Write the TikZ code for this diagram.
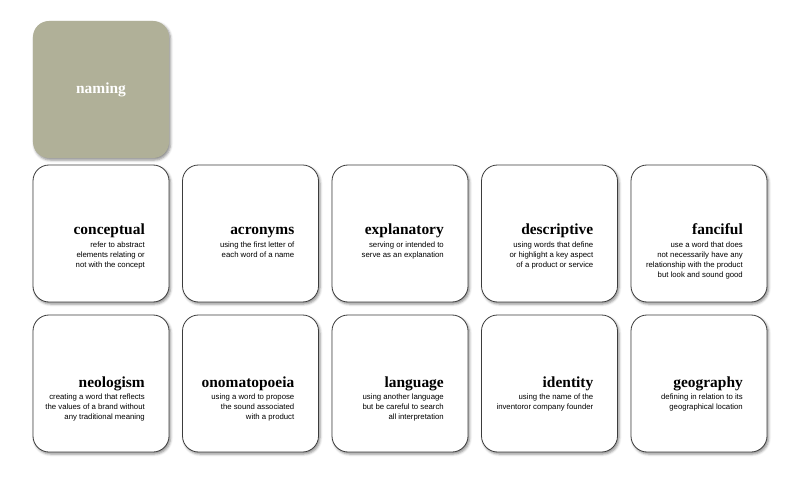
\documentclass[tikz,border=0pt]{standalone}
\usepackage{fontspec}
\setmainfont{Liberation Serif}
\setsansfont{Liberation Sans}
\usetikzlibrary{shadows.blur}
\definecolor{namingfill}{RGB}{176,176,152}
\definecolor{cardline}{RGB}{60,60,60}
\begin{document}
\begin{tikzpicture}[x=1bp,y=-1bp]
	% Styles for the cards
	\tikzset{card/.style={draw=cardline, line width=0.8bp, fill=white, rounded corners=16bp, minimum width=136bp, minimum height=137bp, inner sep=0pt, blur shadow={shadow xshift=1.5bp, shadow yshift=-2bp, shadow blur radius=2.5bp, shadow opacity=45}}}
	\tikzset{headcard/.style={card, draw=none, fill=namingfill}}
	\tikzset{title/.style={anchor=base east, inner sep=0pt, font=\bfseries\fontsize{15.5}{15.5}\selectfont}}
	\tikzset{desc/.style={anchor=north east, inner sep=0pt, align=right, font=\sffamily\fontsize{7.8}{10}\selectfont}}
	\useasboundingbox (0,0) rectangle (800,480);
	
	% Head card
	\node[headcard] (naming) at (101,89.5) {};
	\node[title, anchor=center, text=white] (namingT) at (naming.center) {naming};
	
	% First row
	\node[card] (concept) at (101,233.5) {};
	\node[card] (acro) at (250.5,233.5) {};
	\node[card] (expl) at (400,233.5) {};
	\node[card] (descr) at (549.5,233.5) {};
	\node[card] (fanc) at (699,233.5) {};
	
	\node[title] (conceptT) at ([xshift=44bp,yshift=-1bp]concept.center) {conceptual};
	\node[title] (acroT) at ([xshift=44bp,yshift=-1bp]acro.center) {acronyms};
	\node[title] (explT) at ([xshift=44bp,yshift=-1bp]expl.center) {explanatory};
	\node[title] (descrT) at ([xshift=44bp,yshift=-1bp]descr.center) {descriptive};
	\node[title] (fancT) at ([xshift=44bp,yshift=-1bp]fanc.center) {fanciful};
	
	\node[desc] (conceptD) at ([yshift=-7bp]conceptT.base east) {refer to abstract\\elements relating or\\not with the concept};
	\node[desc] (acroD) at ([yshift=-7bp]acroT.base east) {using the first letter of\\each word of a name};
	\node[desc] (explD) at ([yshift=-7bp]explT.base east) {serving or intended to\\serve as an explanation};
	\node[desc] (descrD) at ([yshift=-7bp]descrT.base east) {using words that define\\or highlight a key aspect\\of a product or service};
	\node[desc] (fancD) at ([yshift=-7bp]fancT.base east) {use a word that does\\not necessarily have any\\relationship with the product\\but look and sound good};
	
	% Second row
	\node[card] (neo) at (101,383.5) {};
	\node[card] (onom) at (250.5,383.5) {};
	\node[card] (lang) at (400,383.5) {};
	\node[card] (ident) at (549.5,383.5) {};
	\node[card] (geo) at (699,383.5) {};
	
	\node[title] (neoT) at ([xshift=44bp,yshift=-3.5bp]neo.center) {neologism};
	\node[title] (onomT) at ([xshift=44bp,yshift=-3.5bp]onom.center) {onomatopoeia};
	\node[title] (langT) at ([xshift=44bp,yshift=-3.5bp]lang.center) {language};
	\node[title] (identT) at ([xshift=44bp,yshift=-3.5bp]ident.center) {identity};
	\node[title] (geoT) at ([xshift=44bp,yshift=-3.5bp]geo.center) {geography};
	
	\node[desc] (neoD) at ([yshift=-7bp]neoT.base east) {creating a word that reflects\\the values of a brand without\\any traditional meaning};
	\node[desc] (onomD) at ([yshift=-7bp]onomT.base east) {using a word to propose\\the sound associated\\with a product};
	\node[desc] (langD) at ([yshift=-7bp]langT.base east) {using another language\\but be careful to search\\all interpretation};
	\node[desc] (identD) at ([yshift=-7bp]identT.base east) {using the name of the\\inventoror company founder};
	\node[desc] (geoD) at ([yshift=-7bp]geoT.base east) {defining in relation to its\\geographical location};
\end{tikzpicture}
\end{document}
